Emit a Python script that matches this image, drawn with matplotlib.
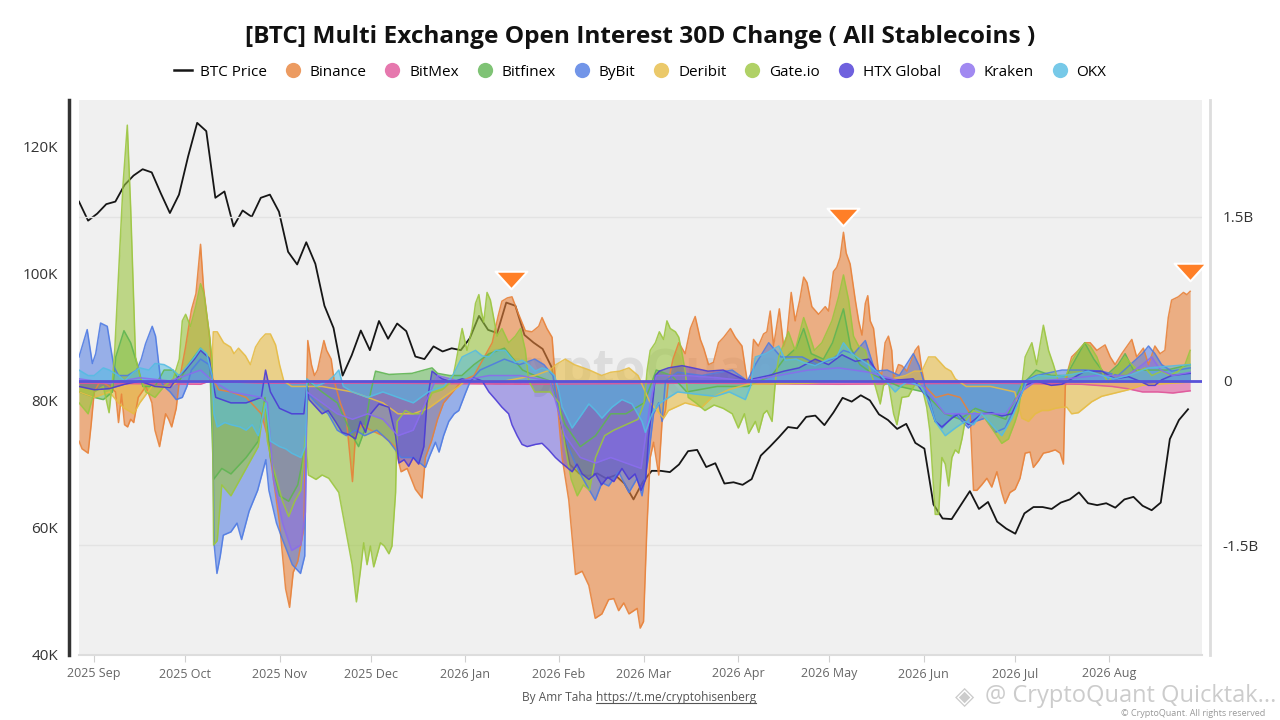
import numpy as np
import pandas as pd
import matplotlib
matplotlib.use('Agg')
import matplotlib.pyplot as plt
import matplotlib.dates as mdates
from matplotlib.lines import Line2D
from matplotlib.path import Path

plt.rcParams['font.family'] = ['Open Sans', 'DejaVu Sans']

START = pd.Timestamp('2025-08-27')

# BTC price (thousands of USD), roughly every 3 days from 2025-08-27 to 2026-08-27
btc_price = [111.4, 108.4, 109.5, 111.0, 111.4, 114.0, 115.5, 116.5, 116.0, 112.7,
             109.6, 112.5, 118.5, 123.8, 122.5, 112.0, 113.0, 107.5, 110.0, 109.0,
             112.0, 112.5, 109.8, 103.5, 101.5, 105.0, 101.6, 95.0, 91.5, 84.0,
             87.2, 91.1, 88.0, 92.6, 89.8, 92.2, 91.0, 87.0, 86.6, 88.6,
             87.8, 88.3, 88.0, 89.9, 93.4, 91.2, 90.7, 95.5, 95.0, 90.4,
             89.2, 88.2, 85.3, 77.0, 70.0, 68.6, 68.2, 68.6, 67.8, 68.3,
             67.0, 64.5, 67.2, 69.0, 69.0, 68.8, 70.0, 72.1, 72.3, 69.6,
             70.2, 67.0, 67.2, 66.8, 67.7, 71.4, 72.8, 74.3, 75.9, 75.7,
             77.5, 77.7, 76.2, 78.2, 80.5, 79.9, 80.9, 80.1, 77.9, 77.0,
             75.6, 76.4, 73.4, 72.5, 63.7, 61.5, 61.4, 63.6, 65.8, 63.0,
             64.1, 61.0, 59.9, 59.1, 62.3, 63.3, 63.3, 63.0, 64.0, 64.5,
             65.6, 63.9, 63.6, 63.9, 63.2, 64.5, 64.9, 63.5, 62.8, 64.0,
             74.0, 77.0, 78.7]

# Open interest 30D change, billions USD: (days since 2025-08-27, value)
binance = [(0, -0.55), (1, -0.62), (3, -0.66), (4, -0.4), (5, -0.1), (7, 0.0), (10, -0.05),
           (12, -0.1), (13, -0.38), (14, -0.12), (15, -0.4), (16, -0.42), (17, -0.35), (18, -0.38),
           (19.5, -0.15), (22, -0.05), (24, -0.2), (25, -0.45), (26.5, -0.6), (27.5, -0.45),
           (28.5, -0.3), (29.5, -0.35), (30.5, -0.42), (32, -0.25), (33, 0.0), (35, 0.3), (37, 0.65),
           (38.5, 0.8), (40, 1.25), (41, 0.85), (42, 0.62), (43, 0.4), (44, 0.02), (46, -0.08),
           (50, -0.1), (55, -0.15), (60, -0.3), (62, -0.5), (64, -0.9), (66, -1.3), (68, -1.9),
           (69.3, -2.07), (70.5, -1.75), (72, -1.65), (74, -1.35), (74.8, -0.2), (75.3, 0.37),
           (76.5, 0.15), (77.5, 0.05), (78.5, 0.1), (80.6, 0.37), (81.5, 0.28), (83, 0.2), (84, 0.0),
           (86, -0.2), (88, -0.35), (90, -0.92), (91, -0.5), (93, -0.4), (96, -0.45), (100, -0.5),
           (104, -0.6), (106, -0.83), (108, -0.8), (110.7, -0.99), (112.9, -1.07), (114, -0.7),
           (116, -0.55), (118, -0.35), (120, -0.2), (123, -0.1), (126, 0.0), (130, 0.05), (133, 0.2),
           (136, 0.35), (138, 0.6), (139.2, 0.73), (141, 0.76), (142.5, 0.77), (144.7, 0.61),
           (146.9, 0.46), (149.1, 0.45), (151.3, 0.5), (152.4, 0.58), (154, 0.48), (155.7, 0.4),
           (156.8, 0.0), (159, -0.7), (161.2, -1.09), (163.4, -1.77), (165.6, -1.74), (167.8, -1.87),
           (169.9, -2.17), (172.1, -2.13), (174.3, -2.0), (176, -1.99), (177.6, -2.1), (179.3, -2.03),
           (181, -2.13), (183.7, -2.08), (184.7, -2.26), (185.8, -2.2), (186.9, -1.35), (188, -0.7),
           (189.1, -0.56), (190.8, -0.86), (191.9, -0.37), (193, -0.27), (194, 0.0), (195.5, 0.2),
           (197.4, 0.35), (199.5, 0.25), (201.2, 0.48), (202.8, 0.59), (204.5, 0.38), (205.6, 0.3),
           (207.2, 0.15), (208.8, 0.17), (210.5, 0.35), (212.2, 0.4), (214.4, 0.48), (216, 0.4),
           (218.2, 0.32), (219.8, 0.02), (220.9, -0.01), (222, 0.38), (223.6, 0.32), (225.3, 0.43),
           (226.4, 0.45), (227.5, 0.64), (228.6, 0.32), (230.5, 0.66), (231.9, 0.32), (233, 0.41),
           (234.4, 0.81), (235.7, 0.55), (237.2, 0.74), (238.5, 0.95), (239.6, 0.9), (241.2, 0.68),
           (243.4, 0.61), (245.6, 0.68), (246.7, 0.64), (248.3, 1.0), (249.4, 1.04), (250.5, 1.13),
           (251.6, 1.36), (252.5, 1.17), (253.8, 1.07), (255.5, 0.74), (256.6, 0.55), (257.7, 0.42),
           (258.8, 0.71), (259.6, 0.78), (260.4, 0.55), (261.5, 0.48), (263.1, 0.09), (264.2, 0.06),
           (265.3, 0.35), (266.4, 0.41), (267.5, 0.28), (268.1, 0.02), (269.7, 0.15), (270.8, 0.14),
           (272.5, 0.09), (275.2, 0.28), (276.3, 0.32), (277.4, 0.1), (278.5, -0.05), (282, -0.15),
           (286, -0.12), (290, -0.15), (293.3, -0.3), (294.4, -1.0), (295.5, -1.0), (297.1, -0.95),
           (298.8, -0.89), (300.4, -0.97), (302.1, -0.83), (303.7, -1.02), (304.8, -1.12),
           (306.4, -1.02), (308.1, -0.99), (309.7, -0.89), (311.4, -0.66), (313, -0.65),
           (314.1, -0.79), (315.8, -0.73), (317.4, -0.66), (319.1, -0.65), (321.3, -0.63),
           (322.9, -0.66), (324, -0.76), (324.6, -0.05), (325.5, 0.1), (326.7, 0.22), (328.9, 0.28),
           (331.1, 0.35), (332.8, 0.35), (335, 0.28), (337.7, 0.33), (339.4, 0.22), (341, 0.15),
           (343.2, 0.25), (346.5, 0.38), (348.1, 0.22), (350.3, 0.3), (352, 0.15), (354.1, 0.32),
           (355.8, 0.25), (357.4, 0.28), (358.5, 0.58), (359.6, 0.74), (361.8, 0.77), (363.5, 0.81),
           (364.6, 0.79), (365.7, 0.82)]

bitmex = [(0, -0.02), (40, -0.03), (43, 0.0), (60, -0.02), (100, -0.02), (150, -0.03),
          (200, -0.02), (250, -0.03), (300, -0.02), (330, -0.03), (340, -0.05), (345, -0.07),
          (350, -0.1), (355, -0.1), (360, -0.11), (365.7, -0.09)]

bitfinex = [(0, -0.1), (5, -0.15), (8, -0.17), (11, -0.1), (12.1, 0.22), (14.8, 0.46), (17, 0.35),
            (19.2, 0.15), (21, -0.05), (25, -0.05), (28, 0.1), (31, 0.1), (33, 0.0), (36, 0.15),
            (40, 0.3), (43, 0.2), (44.3, -0.9), (47, -0.8), (50, -0.85), (55, -0.7), (59, -0.55),
            (61.2, -0.15), (63, -0.7), (66, -1.05), (69, -1.1), (72, -0.95), (74.5, -0.6), (75.5, 0.0),
            (80, -0.1), (85, -0.2), (90, -0.5), (92, -0.6), (94, -0.45), (96, -0.1), (97.6, 0.09),
            (102, 0.06), (109.6, 0.07), (116.2, 0.12), (118, 0.07), (122, 0.05), (126, 0.05),
            (130, 0.15), (135, 0.25), (140, 0.3), (143, 0.2), (146, 0.1), (150, 0.05), (155, 0.0),
            (160, -0.4), (165, -0.6), (170, -0.5), (175, -0.3), (180, -0.3), (186, -0.2), (190, 0.1),
            (195, 0.05), (200, -0.1), (210, -0.05), (220, -0.05), (228, 0.05), (232, 0.2), (236, 0.3),
            (238.5, 0.48), (241, 0.25), (245, 0.2), (248, 0.35), (251.6, 0.66), (254, 0.3),
            (257, 0.15), (262, 0.05), (270, -0.05), (278, -0.1), (285, -0.3), (290, -0.35),
            (295, -0.25), (300, -0.3), (305, -0.35), (310, -0.05), (315, 0.1), (320, 0.05),
            (325, 0.05), (328, 0.2), (331, 0.35), (334, 0.2), (338, 0.05), (342, 0.15), (344.3, 0.25),
            (347, 0.1), (352, 0.1), (358, 0.1), (365.7, 0.15)]

bybit = [(0, 0.22), (2.7, 0.47), (4.4, 0.16), (5.5, 0.25), (7.1, 0.53), (9.3, 0.5), (10.4, 0.31),
         (11.5, 0.13), (13, 0.05), (16, 0.05), (19, 0.1), (20.5, 0.2), (21.9, 0.34), (24.1, 0.5),
         (25.2, 0.41), (26.9, 0.0), (28, -0.05), (30, -0.1), (32, -0.17), (34, -0.15), (35.5, -0.05),
         (37, 0.1), (40, 0.2), (42.8, 0.15), (43.8, 0.0), (44.5, -1.5), (45.4, -1.76), (46.5, -1.6),
         (47.5, -1.41), (50, -1.38), (52, -1.3), (53.5, -1.45), (56, -1.19), (58.8, -1.0),
         (61.5, -0.72), (62.5, -1.0), (65, -1.3), (67, -1.45), (70.2, -1.68), (72.9, -1.76),
         (74.3, -1.6), (75, -0.1), (78, -0.2), (82, -0.3), (85, -0.45), (88, -0.5), (91, -0.45),
         (94, -0.5), (98, -0.45), (102, -0.55), (106, -0.7), (110, -0.7), (114, -0.79),
         (115.5, -0.68), (117.3, -0.56), (118.5, -0.65), (120, -0.5), (121.7, -0.37), (123.5, -0.3),
         (125, -0.27), (127.2, -0.11), (128.8, 0.0), (132, 0.1), (136, 0.15), (140, 0.2),
         (145, 0.15), (150, 0.2), (153, 0.15), (156, 0.05), (158, -0.3), (161, -0.6), (164, -0.8),
         (167.8, -0.99), (169.9, -1.09), (172.1, -0.93), (174.3, -0.96), (177.6, -0.83),
         (181, -1.02), (183.7, -0.89), (185.3, -1.05), (187.4, -0.7), (189.1, -0.3), (190.8, -0.2),
         (191.9, -0.37), (193, 0.0), (197, 0.08), (205, 0.05), (215, 0.1), (220, 0.0),
         (222.6, 0.15), (227, 0.35), (231, 0.22), (238, 0.22), (243, 0.15), (248, 0.2),
         (251.6, 0.28), (255, 0.25), (258.8, 0.37), (262, 0.09), (266, 0.1), (270, 0.05),
         (274.6, 0.25), (276.5, 0.14), (278, 0.0), (279.6, -0.2), (281.8, -0.37), (284, -0.43),
         (288.4, -0.3), (292.7, -0.43), (294.9, -0.37), (298.2, -0.34), (301.5, -0.47),
         (304.8, -0.43), (307, -0.3), (309.2, -0.2), (311.4, 0.0), (315, 0.05), (323.5, 0.1),
         (331.1, 0.1), (336.6, 0.09), (342, 0.05), (346, 0.15), (350, 0.25), (352, 0.32),
         (354.1, 0.25), (356.3, 0.15), (359.6, 0.09), (365.7, 0.12)]

deribit = [(0, -0.1), (5, -0.15), (10, -0.1), (13, -0.2), (15, -0.25), (18, -0.3), (20, -0.2),
           (24, -0.05), (30, -0.05), (33, 0.0), (43.5, 0.0), (44.2, 0.45), (45.5, 0.45),
           (47.6, 0.35), (49.9, 0.31), (51, 0.25), (52.5, 0.3), (54.8, 0.23), (56.4, 0.15),
           (58.1, 0.31), (59.7, 0.38), (61.4, 0.43), (63, 0.43), (64.7, 0.33), (66, 0.15),
           (67.4, 0.0), (70, -0.05), (80, -0.05), (90, -0.1), (95, -0.15), (100, -0.2), (105, -0.3),
           (110, -0.3), (115, -0.25), (120, -0.15), (125, -0.05), (127, 0.0), (140, 0.0),
           (150, 0.05), (155, 0.1), (157, 0.15), (160, 0.2), (163, 0.15), (166, 0.12), (168, 0.1),
           (172, 0.05), (175, 0.08), (178, 0.09), (181, 0.12), (184, 0.05), (188, -0.2),
           (192.4, -0.34), (194, -0.27), (199.5, -0.2), (205, -0.24), (208.3, -0.15),
           (213.8, -0.08), (220, -0.03), (240, -0.02), (250, 0.0), (265, 0.0), (272, 0.05),
           (275, 0.09), (277.4, 0.09), (279.6, 0.22), (281.8, 0.22), (285.1, 0.12), (287, 0.09),
           (288.4, 0.02), (292, -0.05), (300, -0.05), (308, -0.1), (310.3, -0.34), (312.5, -0.37),
           (314.7, -0.3), (316.9, -0.27), (319.1, -0.27), (321.3, -0.25), (323.5, -0.24),
           (325.1, -0.24), (326.7, -0.3), (328.9, -0.29), (331.1, -0.24), (333.3, -0.19),
           (336.6, -0.14), (341, -0.11), (345.4, -0.08), (349.8, -0.04), (354.1, -0.03),
           (365.7, -0.01)]

gateio = [(0, -0.2), (3, -0.3), (5, -0.1), (8, -0.05), (9.9, -0.29), (11, 0.0), (11.8, 0.3),
          (13, 0.97), (14.5, 1.8), (15.9, 2.34), (17, 1.59), (18.6, 0.22), (20, 0.05), (22, -0.1),
          (25, -0.15), (28, -0.05), (31, 0.02), (33, 0.2), (34, 0.55), (35.1, 0.61), (36.7, 0.5),
          (38.4, 0.68), (40, 0.89), (41.1, 0.8), (42.8, 0.45), (43.8, 0.2), (44.3, -1.5),
          (45.5, -1.46), (47, -0.95), (50, -1.05), (53, -0.9), (56, -0.75), (59, -0.6), (61, -0.2),
          (62, -0.55), (64, -0.8), (67, -1.1), (69, -1.24), (71, -1.1), (73, -1.0), (74.5, -0.5),
          (75.5, -0.86), (78, -0.9), (80, -0.86), (82.2, -0.89), (85.5, -1.02), (87.7, -1.35),
          (89.9, -1.68), (91.3, -2.02), (92.6, -1.74), (93.7, -1.48), (94.8, -1.68), (95.9, -1.51),
          (97, -1.7), (99.2, -1.48), (100.5, -1.51), (102, -1.58), (103, -1.51), (104.2, -1.02),
          (104.7, -0.37), (107.4, -0.27), (109.6, -0.3), (112.9, -0.3), (116.2, -0.11),
          (119.5, -0.08), (122.8, 0.0), (123.9, 0.15), (126.1, 0.48), (127.7, 0.28), (129.4, 0.48),
          (130.5, 0.71), (131.6, 0.79), (132.4, 0.64), (133.2, 0.54), (134.3, 0.81), (135.4, 0.74),
          (137.6, 0.41), (139.2, 0.48), (141.4, 0.35), (143.6, 0.41), (145.3, 0.48), (146.9, 0.28),
          (148, 0.0), (150, -0.1), (155, -0.1), (158, -0.2), (160, -0.6), (162, -0.9), (164, -1.05),
          (166, -0.95), (168, -1.0), (170, -0.7), (173, -0.5), (176, -0.45), (180, -0.4),
          (184, -0.35), (186, -0.2), (187, 0.1), (188, 0.28), (189.7, 0.35), (191, 0.45),
          (192.4, 0.38), (193.5, 0.55), (194.6, 0.48), (196.3, 0.45), (197.4, 0.4), (198.5, 0.25),
          (199.5, 0.09), (200.5, -0.15), (203, -0.2), (206, -0.27), (209, -0.22), (212, -0.25),
          (215, -0.3), (217, -0.43), (219, -0.3), (220.4, -0.48), (222.6, -0.37), (223.7, -0.47),
          (225.3, -0.3), (226.4, -0.27), (228.1, -0.37), (229.2, 0.0), (230.3, 0.22),
          (233.5, 0.45), (235.7, 0.28), (238.5, 0.58), (240.1, 0.45), (242, 0.28), (244.5, 0.35),
          (247.8, 0.55), (250, 0.77), (251.6, 0.97), (253.3, 0.74), (254.9, 0.41), (256.6, 0.32),
          (258.8, 0.28), (260.4, 0.09), (262, -0.04), (263.7, -0.21), (264.8, -0.04),
          (266.4, -0.01), (268.1, -0.3), (269.2, -0.4), (270.8, -0.15), (273, -0.14), (275.7, 0.0),
          (277.4, -0.05), (279, -0.24), (280.1, -0.47), (281.8, -1.22), (282.9, -1.22), (284, -0.7),
          (285.1, -0.76), (286.2, -0.96), (287.3, -0.7), (288.4, -0.63), (289.5, -0.66),
          (290.6, -0.53), (291.6, -0.37), (294.4, -0.27), (297.1, -0.3), (300.4, -0.43),
          (303.7, -0.57), (305.9, -0.53), (308.1, -0.37), (309.2, -0.27), (310.3, -0.04),
          (311.4, 0.22), (313.6, 0.35), (315.2, 0.15), (317.4, 0.51), (319.1, 0.28), (320.7, 0.15),
          (322.4, -0.01), (324.5, 0.02), (326.7, 0.18), (328.9, 0.28), (331.1, 0.35), (332.8, 0.32),
          (335, 0.22), (337.2, 0.05), (338.8, -0.01), (341, 0.09), (344.3, 0.22), (346.5, 0.15),
          (348.7, 0.09), (350.9, 0.12), (353.1, 0.05), (356.3, 0.09), (359, 0.05), (361.8, 0.09),
          (364, 0.15), (365.7, 0.28)]

htx = [(0, -0.05), (5, -0.08), (10, -0.07), (15, -0.03), (20, 0.0), (25, -0.05), (30, -0.06),
       (33, 0.05), (35, 0.1), (38, 0.2), (40, 0.28), (42.8, 0.21), (44, 0.0), (45, -0.15),
       (50, -0.2), (55, -0.2), (60, -0.15), (61.4, 0.1), (63, -0.1), (66, -0.25), (70, -0.3),
       (74, -0.3), (75, -0.05), (75.7, -0.17), (78, -0.24), (80, -0.3), (82, -0.27), (84.4, -0.37),
       (86.6, -0.47), (88.8, -0.49), (91, -0.53), (92.6, -0.37), (94.3, -0.47), (96, -0.3),
       (98.7, -0.21), (102, -0.24), (104.2, -0.5), (105.3, -0.75), (107, -0.72), (108.5, -0.78),
       (110, -0.7), (111.8, -0.76), (113.5, -0.6), (114.5, -0.2), (116.2, 0.09), (118, 0.05),
       (119.5, 0.02), (122.8, -0.01), (126.1, 0.02), (128.8, 0.0), (130, 0.03), (132.7, 0.0),
       (134.9, -0.1), (137.1, -0.17), (139.2, -0.24), (141.4, -0.3), (142.5, -0.4), (144.2, -0.5),
       (145.8, -0.58), (147.5, -0.6), (150.2, -0.58), (152.4, -0.57), (154.6, -0.63),
       (156.8, -0.7), (158.4, -0.74), (160.6, -0.79), (162.3, -0.83), (163.9, -0.76),
       (165.6, -0.85), (167.8, -0.9), (170, -0.85), (172, -0.95), (174, -0.88), (176, -0.92),
       (178.7, -0.8), (181, -0.9), (183, -0.85), (185, -1.0), (186.5, -0.9), (187.5, -0.5),
       (189, -0.15), (189.7, 0.05), (191, 0.09), (194, 0.12), (198.5, 0.14), (202, 0.12),
       (207, 0.09), (212, 0.1), (216, 0.05), (219.8, 0.0), (222, 0.02), (227, 0.05), (232, 0.09),
       (237, 0.12), (242.3, 0.2), (246.7, 0.15), (251.1, 0.24), (255.5, 0.18), (259.9, 0.2),
       (264.2, 0.02), (270, 0.01), (274.5, 0.02), (278, -0.11), (279.6, -0.15), (281.8, -0.37),
       (284, -0.42), (287.3, -0.34), (289.5, -0.3), (292.7, -0.4), (297.1, -0.3), (300.4, -0.29),
       (303.7, -0.32), (307, -0.3), (309.2, -0.17), (311.4, -0.04), (315, 0.0), (320, -0.04),
       (323.5, -0.03), (326.7, 0.02), (331.1, 0.09), (336.6, 0.09), (341, 0.02), (345.4, 0.04),
       (349.8, -0.01), (352, -0.04), (354.1, -0.04), (356.3, 0.01), (359.6, 0.05), (365.7, 0.07)]

kraken = [(0, 0.02), (10, -0.02), (20, 0.03), (30, 0.0), (40, 0.1), (44, 0.0), (50, -0.1),
          (60, -0.15), (62, -0.2), (64, -0.9), (67, -1.3), (70, -1.55), (73, -1.5), (74.5, -1.2),
          (75, -0.1), (80, -0.2), (85, -0.3), (90, -0.35), (95, -0.3), (100, -0.35), (105, -0.5),
          (110, -0.45), (114, -0.2), (118, 0.05), (125, 0.0), (135, 0.05), (145, 0.05), (155, 0.0),
          (160, -0.5), (165, -0.7), (170, -0.75), (175, -0.7), (180, -0.75), (185, -0.8),
          (188, -0.2), (190, 0.05), (200, 0.05), (210, 0.03), (220, 0.0), (230, 0.05), (240, 0.1),
          (250, 0.12), (260, 0.08), (270, 0.0), (278, -0.05), (285, -0.3), (295, -0.3), (305, -0.3),
          (310, -0.1), (315, 0.0), (325, 0.02), (335, 0.05), (345, 0.05), (350, 0.15), (353, 0.22),
          (356, 0.1), (360, 0.05), (365.7, 0.08)]

okx = [(0, 0.1), (3, 0.05), (5, 0.05), (8, 0.12), (10, 0.1), (13, 0.05), (15, 0.0), (18, 0.08),
       (20, 0.12), (23, 0.1), (25, 0.16), (28, 0.15), (30, 0.12), (33, 0.05), (36, 0.15),
       (38, 0.22), (40, 0.3), (42, 0.25), (43.8, 0.05), (44.4, -0.3), (45.5, -0.42), (48, -0.38),
       (50, -0.4), (53, -0.42), (55, -0.45), (57, -0.4), (59, -0.5), (61.5, -0.2), (63, -0.55),
       (66, -0.6), (68, -0.62), (70, -0.66), (73, -0.7), (74.5, -0.6), (75, 0.02), (78, -0.05),
       (82, 0.0), (84, 0.05), (85.5, 0.1), (87, -0.05), (90, -0.1), (95, -0.15), (100, -0.1),
       (105, -0.15), (110, -0.2), (115, -0.1), (120, -0.05), (123, 0.05), (126.1, 0.22),
       (130.5, 0.28), (132.7, 0.23), (135, 0.22), (137.1, 0.28), (140.3, 0.28), (142, 0.22),
       (143.6, 0.17), (145.8, 0.19), (148, 0.15), (150.2, 0.09), (152.4, 0.12), (154.6, 0.1),
       (156.5, 0.05), (158, -0.1), (159, -0.24), (162.3, -0.43), (165.6, -0.3), (167.8, -0.21),
       (170, -0.27), (172.1, -0.34), (175.4, -0.24), (178.7, -0.17), (182, -0.21), (185.3, -0.37),
       (186.4, -0.47), (188.6, -0.3), (190.8, -0.21), (193, -0.17), (197, -0.1), (203, -0.12),
       (209.4, -0.14), (214, -0.1), (219.3, -0.17), (221, -0.05), (222.6, 0.22), (226, 0.25),
       (230.3, 0.32), (232.5, 0.19), (236, 0.2), (238.5, 0.17), (242.3, 0.14), (246.7, 0.2),
       (249.4, 0.22), (251.6, 0.35), (254.4, 0.25), (257, 0.2), (259.9, 0.15), (264, 0.05),
       (268.6, -0.1), (270.8, -0.04), (273, 0.0), (277, -0.05), (280, -0.2), (281.8, -0.37),
       (285.1, -0.5), (288.4, -0.43), (291.6, -0.37), (294.4, -0.4), (297.1, -0.3),
       (300.4, -0.4), (303.7, -0.5), (307, -0.34), (310.3, -0.11), (312, 0.0), (315.8, 0.05),
       (321.3, 0.04), (326.7, 0.06), (332.2, 0.09), (338, 0.04), (341, 0.02), (346.5, 0.06),
       (352, 0.12), (356.3, 0.13), (360.7, 0.14), (365.7, 0.15)]

exchanges = ['Binance', 'BitMex', 'Bitfinex', 'ByBit', 'Deribit', 'Gate.io', 'HTX Global', 'Kraken', 'OKX']
series = [binance, bitmex, bitfinex, bybit, deribit, gateio, htx, kraken, okx]
colors = ['#E8823A', '#E0569A', '#5FB552', '#4F7BE3', '#E6BC45', '#9CC640', '#4B3AD6', '#8A6CEE', '#55BCE3']
fill_alpha = [0.6, 0.6, 0.55, 0.55, 0.6, 0.6, 0.42, 0.45, 0.55]

# peak markers (days, value)
peak_days = [142.3, 251.6, 365.7]
peak_vals = [0.92, 1.5, 1.0]


def to_xy(pairs):
    d = np.array([p[0] for p in pairs], dtype=float)
    v = np.array([p[1] for p in pairs], dtype=float)
    return START + pd.to_timedelta(d, unit='D'), v


fig = plt.figure(figsize=(12.8, 7.2), dpi=100)
ax = fig.add_axes([79 / 1280, 65 / 720, 1123 / 1280, 555 / 720])
ax.set_facecolor('#F0F0F0')

ax.text(0.5, 0.51, 'CryptoQuant', transform=ax.transAxes, ha='center', va='center',
        fontsize=36, fontweight='bold', color='#DCDCDC', zorder=0.5)

btc_dates = pd.date_range('2025-08-27', '2026-08-27', periods=len(btc_price))
ax.plot(btc_dates, np.array(btc_price) * 1000, color='#161616', lw=1.3, zorder=2)
ax.set_ylim(40000, 127400)
ax.set_yticks([40000, 60000, 80000, 100000, 120000])
ax.set_yticklabels(['40K', '60K', '80K', '100K', '120K'])
ax.tick_params(axis='y', length=0, pad=8, labelsize=11, labelcolor='#333333')
ax.spines['top'].set_visible(False)
ax.spines['right'].set_visible(False)
ax.spines['left'].set_position(('outward', 7))
ax.spines['left'].set_color('#333333')
ax.spines['left'].set_linewidth(2.5)
ax.spines['bottom'].set_color('#DDDDDD')
ax.spines['bottom'].set_linewidth(1.5)

ax.set_xlim(START, START + pd.Timedelta(days=369.6))
ax.xaxis.set_major_locator(mdates.MonthLocator())
ax.xaxis.set_major_formatter(mdates.DateFormatter('%Y %b'))
ax.tick_params(axis='x', length=5, color='#D0D0D0', labelsize=9, labelcolor='#666666', pad=4)

ax2 = ax.twinx()
ax2.set_axisbelow(True)
for name, pairs, c, a in zip(exchanges, series, colors, fill_alpha):
    x, v = to_xy(pairs)
    ax2.fill_between(x, v, 0, color=c, alpha=a, lw=0)
    ax2.plot(x, v, color=c, lw=1.1, alpha=0.9)
ax2.axhline(0, color='#5852D8', lw=2, zorder=5)

ax2.set_ylim(-2.506, 2.570)
ax2.set_yticks([-1.5, 0, 1.5])
ax2.set_yticklabels(['-1.5B', '0', '1.5B'])
ax2.grid(axis='y', color='#E3E3E3', lw=1)
ax2.tick_params(axis='y', length=0, pad=9, labelsize=11, labelcolor='#333333')
for s in ['top', 'left', 'bottom']:
    ax2.spines[s].set_visible(False)
ax2.spines['right'].set_position(('outward', 6))
ax2.spines['right'].set_color('#DDDDDD')
ax2.spines['right'].set_linewidth(2)

tri = Path([(-1, 0.55), (1, 0.55), (0, -0.55), (-1, 0.55)],
           [Path.MOVETO, Path.LINETO, Path.LINETO, Path.CLOSEPOLY])
px, pv = to_xy(list(zip(peak_days, peak_vals)))
ax2.plot(px, pv, linestyle='none', marker=tri, markersize=23, color='#FF7F27',
         markeredgecolor='white', markeredgewidth=1.5, zorder=10, clip_on=False)

fig.text(0.5, 1 - 37 / 720, '[BTC] Multi Exchange Open Interest 30D Change ( All Stablecoins )',
         ha='center', va='center', fontsize=17.6, fontweight='bold', color='#111111')

handles = [Line2D([0], [0], color='#161616', lw=1.8, label='BTC Price')]
for name, c in zip(exchanges, colors):
    handles.append(Line2D([0], [0], linestyle='none', marker='o', markersize=11,
                          markerfacecolor=c, markeredgewidth=0, alpha=0.8, label=name))
fig.legend(handles=handles, loc='center', bbox_to_anchor=(0.5, 1 - 72 / 720), ncol=10,
           frameon=False, fontsize=11, handlelength=1.2, handletextpad=0.5, columnspacing=1.1)

t1 = fig.text(592 / 1280, 1 - 697 / 720, 'By Amr Taha', ha='right', va='center',
              fontsize=8.6, color='#555555')
t2 = fig.text(596 / 1280, 1 - 697 / 720, 'https://t.me/cryptohisenberg', ha='left', va='center',
              fontsize=8.6, color='#555555')
fig.text(965 / 1280, 1 - 697 / 720, '◈', ha='center', va='center', fontsize=18,
         color='#CCCCCC', family=['DejaVu Sans'])
fig.text(0.997, 1 - 696 / 720, '@ CryptoQuant Quicktak...', ha='right', va='center',
         fontsize=17, color='#BBBBBB', alpha=0.75)
fig.text(1265 / 1280, 1 - 713 / 720, '© CryptoQuant. All rights reserved', ha='right', va='center',
         fontsize=6.5, color='#999999')

fig.canvas.draw()
bb = t2.get_window_extent().transformed(fig.transFigure.inverted())
fig.add_artist(Line2D([bb.x0, bb.x1], [bb.y0 + 0.001, bb.y0 + 0.001], transform=fig.transFigure,
                      color='#555555', lw=0.8))

fig.savefig('out.png', dpi=100)
